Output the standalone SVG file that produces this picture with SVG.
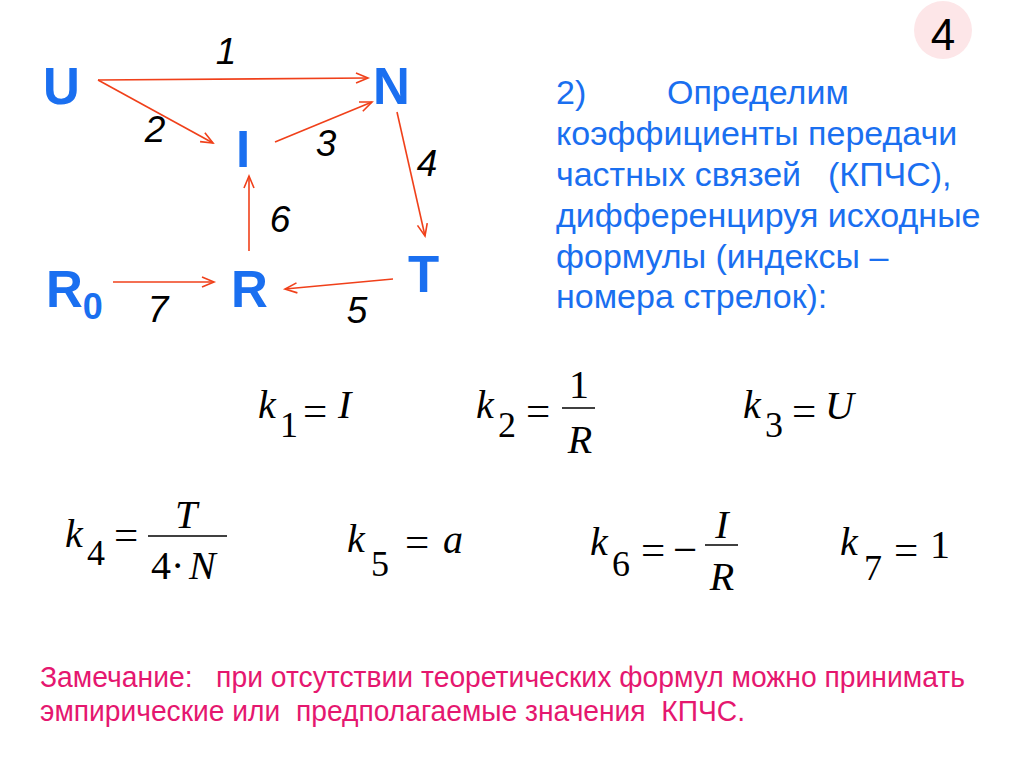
<svg xmlns="http://www.w3.org/2000/svg" width="1024" height="768" viewBox="0 0 1024 768">
<style>
.node{font-family:"Liberation Sans",Arial,sans-serif;font-weight:bold;font-size:51px;fill:#1a6ff0}
.num{font-family:"Liberation Sans",Arial,sans-serif;font-style:italic;font-size:37px;fill:#000;text-anchor:middle}
.edge{stroke:#f0401a;stroke-width:1.6;fill:none}
.desc{font-family:"Liberation Sans",Arial,sans-serif;font-size:34px;fill:#1a6ff0}
.note{font-family:"Liberation Sans Narrow","Liberation Sans",Arial,sans-serif;font-size:29px;fill:#e5176f;white-space:pre}
.m{font-family:"Liberation Serif","Times New Roman",serif;font-size:40px;fill:#000}
.eq{font-family:"Liberation Serif","Times New Roman",serif;font-size:43px;fill:#000}
.mi{font-family:"Liberation Serif","Times New Roman",serif;font-style:italic;font-size:40px;fill:#000}
.ms{font-family:"Liberation Serif","Times New Roman",serif;font-size:36px;fill:#000}
.bar{stroke:#000;stroke-width:1.6}
</style>
<defs>
<marker id="ah" markerUnits="userSpaceOnUse" markerWidth="16" markerHeight="14" refX="13" refY="6" orient="auto">
<path d="M1,1 L13,6 L1,11" fill="none" stroke="#f0401a" stroke-width="1.6"/>
</marker>
</defs>
<rect width="1024" height="768" fill="#fff"/>
<g id="badge">
<circle cx="943" cy="30" r="29" fill="#fde6e8"/>
<text x="943" y="50" font-family="Liberation Sans,Arial,sans-serif" font-size="44" text-anchor="middle" fill="#000">4</text>
</g>
<g id="connectors">
<line class="edge" x1="98" y1="80" x2="368" y2="78" marker-end="url(#ah)"/>
<line class="edge" x1="98" y1="80" x2="213" y2="143" marker-end="url(#ah)"/>
<line class="edge" x1="275" y1="142" x2="372" y2="102" marker-end="url(#ah)"/>
<line class="edge" x1="397" y1="112" x2="425" y2="236" marker-end="url(#ah)"/>
<line class="edge" x1="393" y1="279" x2="285" y2="289" marker-end="url(#ah)"/>
<line class="edge" x1="249" y1="251" x2="249" y2="176" marker-end="url(#ah)"/>
<line class="edge" x1="113" y1="282" x2="214" y2="282" marker-end="url(#ah)"/>
<text class="num" x="226" y="64">1</text>
<text class="num" x="155" y="142">2</text>
<text class="num" x="326" y="156">3</text>
<text class="num" x="427" y="176">4</text>
<text class="num" x="357" y="323">5</text>
<text class="num" x="280" y="232">6</text>
<text class="num" x="158" y="322">7</text>
</g>
<g id="node-U"><text class="node" x="43" y="104">U</text></g>
<g id="node-N"><text class="node" x="373" y="104">N</text></g>
<g id="node-I"><text class="node" x="236" y="167">I</text></g>
<g id="node-R"><text class="node" x="231" y="307">R</text></g>
<g id="node-T"><text class="node" x="408" y="292">T</text></g>
<g id="node-R0"><text class="node" x="46" y="307">R<tspan font-size="36" y="319">0</tspan></text></g>
<g id="description">
<text class="desc" x="556" y="104">2)</text>
<text class="desc" x="667" y="104">Определим</text>
<text class="desc" x="556" y="145">коэффициенты передачи</text>
<text class="desc" x="556" y="186">частных связей</text>
<text class="desc" x="828" y="186">(КПЧС),</text>
<text class="desc" x="556" y="227">дифференцируя исходные</text>
<text class="desc" x="556" y="268">формулы (индексы –</text>
<text class="desc" x="556" y="308">номера стрелок):</text>
</g>
<g id="formulas">
<text class="mi" x="258" y="418">k</text><text class="ms" x="280" y="437">1</text><text class="eq" x="303" y="425">=</text><text class="mi" x="338" y="418">I</text>
<text class="mi" x="476" y="418">k</text><text class="ms" x="498" y="437">2</text><text class="eq" x="526" y="425">=</text><text class="m" x="579" y="398" text-anchor="middle">1</text><line class="bar" x1="562" y1="408" x2="595" y2="408"/><text class="mi" x="580" y="453" text-anchor="middle">R</text>
<text class="mi" x="743" y="418">k</text><text class="ms" x="765" y="437">3</text><text class="eq" x="792" y="425">=</text><text class="mi" x="825" y="419">U</text>
<text class="mi" x="65" y="547">k</text><text class="ms" x="87" y="565">4</text><text class="eq" x="114" y="549">=</text><text class="mi" x="186" y="528" text-anchor="middle">T</text><line class="bar" x1="148" y1="536" x2="227" y2="536"/><text class="m" x="151" y="579">4<tspan x="171">·</tspan><tspan x="189" font-style="italic">N</tspan></text>
<text class="mi" x="347" y="552" font-size="44">k</text><text class="ms" x="371" y="576" font-size="40">5</text><text class="eq" x="405" y="556" font-size="45">=</text><text class="mi" x="443" y="553" font-size="44">a</text>
<text class="mi" x="590" y="555">k</text><text class="ms" x="612" y="576">6</text><text class="eq" x="641" y="564">=</text><text class="eq" x="673" y="564">−</text><line class="bar" x1="705" y1="545" x2="738" y2="545"/><text class="mi" x="722" y="538" text-anchor="middle">I</text><text class="mi" x="722" y="590" text-anchor="middle">R</text>
<text class="mi" x="840" y="555">k</text><text class="ms" x="864" y="580">7</text><text class="eq" x="894" y="564">=</text><text class="m" x="930" y="558">1</text>
</g>
<g id="note">
<text class="note" x="40" y="687" textLength="925" lengthAdjust="spacingAndGlyphs" xml:space="preserve">Замечание:   при отсутствии теоретических формул можно принимать</text>
<text class="note" x="40" y="721" textLength="705" lengthAdjust="spacingAndGlyphs" xml:space="preserve">эмпирические или  предполагаемые значения  КПЧС.</text>
</g>
</svg>
